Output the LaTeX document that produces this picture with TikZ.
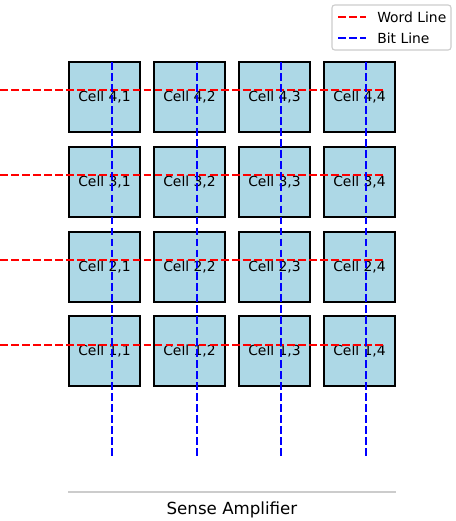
\documentclass[tikz,border=0pt]{standalone}
\usepackage{fontspec}
\setmainfont{DejaVu Sans}
\definecolor{cellblue}{HTML}{ADD8E6}
\definecolor{spine}{HTML}{CCCCCC}
\begin{document}
\begin{tikzpicture}[x=0.72pt,y=-0.72pt,
  cellbox/.style={draw=black,line width=1pt,fill=cellblue,minimum width=71*0.72pt,minimum height=70*0.72pt,inner sep=0pt,font=\fontsize{10}{12}\selectfont,text=black},
  wordline/.style={red,line width=1.5pt,dash pattern=on 5.55pt off 2.4pt},
  bitline/.style={blue,line width=1.5pt,dash pattern=on 5.55pt off 2.4pt},
  legtext/.style={anchor=west,inner sep=0pt,font=\fontsize{10}{12}\selectfont}]
\useasboundingbox (0,0) rectangle (455,521);
% cells
\foreach \r/\yy in {4/97,3/182,2/267,1/351}{
  \foreach \c/\xx in {1/104.5,2/189.5,3/274.5,4/359.5}{
    \node[cellbox] (c\r\c) at (\xx,\yy) {Cell \r,\c};
  }
}
% word lines
\foreach \r/\yy in {4/90,3/175,2/260,1/345}{
  \coordinate (wl\r s) at (0,\yy);
  \coordinate (wl\r e) at (383,\yy);
  \draw[wordline] (wl\r s) -- (wl\r e);
}
% bit lines
\foreach \c/\xx in {1/112,2/197,3/281,4/366}{
  \coordinate (bl\c s) at (\xx,62);
  \coordinate (bl\c e) at (\xx,457);
  \draw[bitline] (bl\c s) -- (bl\c e);
}
% axis spine and label
\coordinate (axl) at (68,492);
\coordinate (axr) at (396,492);
\draw[spine,line width=0.8pt] (axl) -- (axr);
\node[font=\fontsize{12}{14}\selectfont,inner sep=0pt] (xlabel) at (232,510) {Sense Amplifier};
% legend
\draw[spine,fill=white,fill opacity=0.8,line width=0.8pt,rounded corners=2pt] (332,5) rectangle (451,50);
\coordinate (lw1) at (338,17);
\coordinate (lw2) at (366,17);
\coordinate (lb1) at (338,38);
\coordinate (lb2) at (366,38);
\draw[wordline] (lw1) -- (lw2);
\draw[bitline] (lb1) -- (lb2);
\node[legtext] (legw) at (377,17) {Word Line};
\node[legtext] (legb) at (377,38) {Bit Line};
\end{tikzpicture}
\end{document}
